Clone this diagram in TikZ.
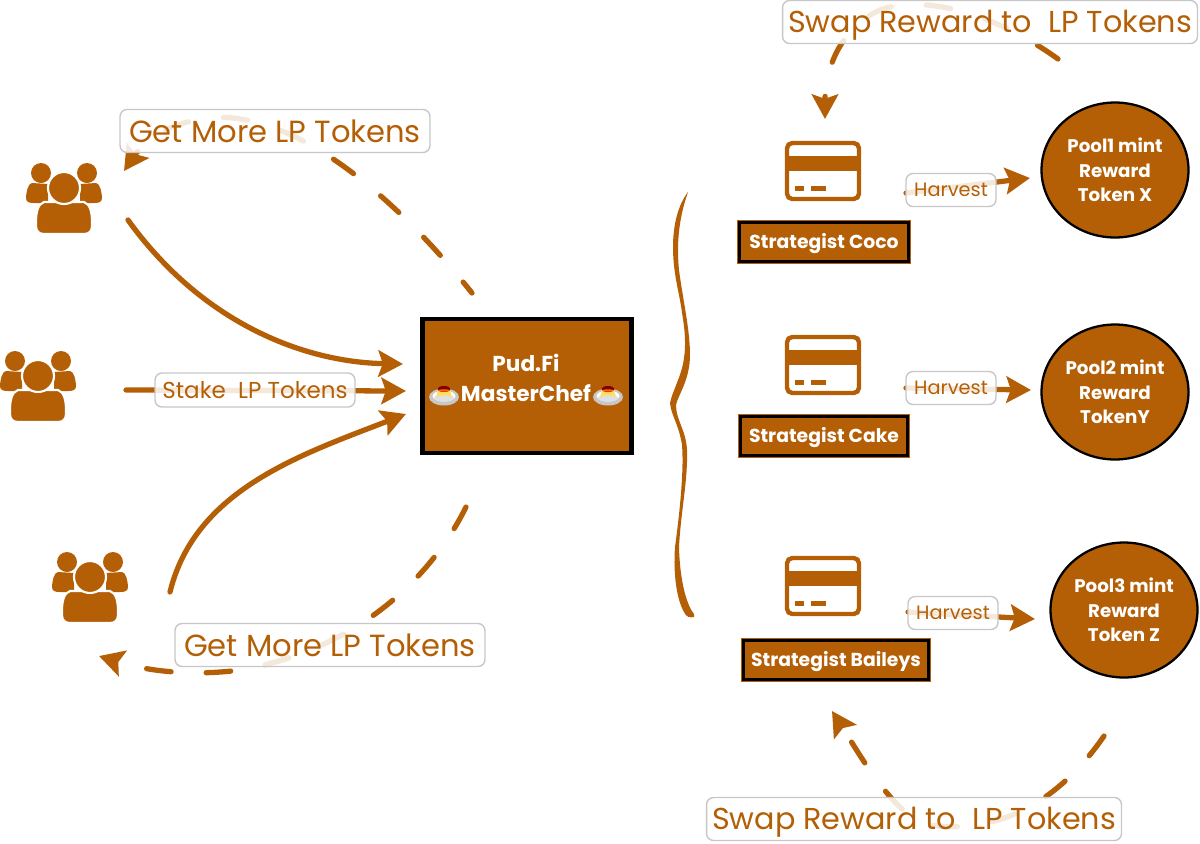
\documentclass[tikz,border=0pt]{standalone}
\usepackage{fontspec}
\setmainfont{Poppins}
\usetikzlibrary{arrows.meta,backgrounds,shapes.geometric}
\definecolor{pud}{HTML}{B45F06}
\tikzset{
  x=0.02cm,y=-0.02cm,
  arr/.style={draw=pud,line width=3pt,line cap=round,-{Stealth[length=14pt,width=15pt,inset=2.5pt]}},
  dasharr/.style={arr,dash pattern=on 14pt off 20pt},
  lbl/.style={draw=black!22,line width=0.8pt,rounded corners=4pt,fill=white,fill opacity=.86,text opacity=1,text=pud,inner sep=0pt},
  biglbl/.style={lbl,font=\fontsize{17.4}{20}\selectfont},
  swaplbl/.style={lbl,font=\fontsize{17.2}{20}\selectfont,text height=15pt,text depth=2.7pt,minimum width=8.3cm,minimum height=0.86cm},
  smalllbl/.style={lbl,font=\fontsize{11}{13}\selectfont},
  strat/.style={draw=black,fill=pud,line width=2pt,text=white,font=\bfseries\fontsize{10.7}{12}\selectfont,minimum height=0.8cm,inner sep=0pt,text height=10pt,text depth=2.3pt},
  pool/.style={ellipse,draw=black,line width=1.3pt,fill=pud,text=white,align=center,font=\bfseries\fontsize{10.4}{14}\selectfont,inner sep=0pt,minimum width=2.94cm,minimum height=2.7cm},
  pics/people/.style={code={
    \fill[pud] (-23,-15) circle (10);
    \fill[pud] (23,-15) circle (10);
    \fill[pud] (-16,-4) -- (-32,-5) .. controls (-36,-5) and (-38,5) .. (-38,10) .. controls (-38,14) and (-35,15) .. (-30,15) -- (-16,15) -- cycle;
    \fill[pud] (16,-4) -- (32,-5) .. controls (36,-5) and (38,5) .. (38,10) .. controls (38,14) and (35,15) .. (30,15) -- (16,15) -- cycle;
    \fill[pud,draw=white,line width=1.2pt] (-20,14) -- (20,14) .. controls (26,16) and (28,24) .. (28,34) -- (28,38) .. controls (28,43) and (25,46) .. (20,46) -- (-20,46) .. controls (-25,46) and (-28,43) .. (-28,38) -- (-28,34) .. controls (-28,24) and (-26,16) .. (-20,14) -- cycle;
    \fill[pud,draw=white,line width=1.2pt] (0,0) circle (16);
  }},
  pics/cardicon/.style={code={
    \draw[pud,line width=2.5pt,fill=white,rounded corners=3pt] (-36,-28) rectangle (36,28);
    \fill[pud] (-36,-15) rectangle (36,0);
    \fill[pud] (-28,15) rectangle (-19,20);
    \fill[pud] (-12,15) rectangle (3,20);
  }},
  pics/flan/.style={code={
    \fill[black!22] (0,0) ellipse (15 and 8.5);
    \fill[white] (0,-1) ellipse (11.5 and 5.5);
    \fill[black!12] (0,1) ellipse (10 and 3.5);
    \fill[orange!45!yellow!60] (-8,1) -- (-6,-8) -- (6,-8) -- (8,1) arc (0:-180:8 and 2.5) -- cycle;
    \fill[red!50!black] (0,-8) ellipse (6.5 and 3);
    \fill[orange!80!red] (0,-6.5) ellipse (6 and 1.2);
  }}
}
\begin{document}
\begin{tikzpicture}
\useasboundingbox (0,0) rectangle (1200,843);

% main nodes
\node[draw=black,fill=pud,line width=2.4pt,minimum width=4.18cm,minimum height=2.68cm,inner sep=0pt] (master) at (527,386) {};
\node[text=white,font=\bfseries\fontsize{12.3}{17}\selectfont,align=center] (mastertext) at (526,378) {Pud.Fi\\MasterChef};
\pic at (444,397) {flan};
\pic at (608,397) {flan};

\node[strat,minimum width=3.38cm] (coco) at (824,242) {Strategist Coco};
\node[strat,minimum width=3.36cm] (cake) at (824,436) {Strategist Cake};
\node[strat,minimum width=3.72cm] (baileys) at (836,660) {Strategist Baileys};
\draw[pud,line width=0.4pt] (coco.south west) rectangle (coco.north east);
\draw[pud,line width=0.4pt] (cake.south west) rectangle (cake.north east);
\draw[pud,line width=0.4pt] (baileys.south west) rectangle (baileys.north east);

\pic at (823,171) {cardicon};
\pic at (823,365) {cardicon};
\pic at (823,586) {cardicon};

\node[pool] (p1) at (1115,170) {Pool1 mint\\Reward\\Token X};
\node[pool] (p2) at (1115,392) {Pool2 mint\\Reward\\TokenY};
\node[pool] (p3) at (1124,610) {Pool3 mint\\Reward\\Token Z};

\pic at (64,188) {people};
\pic at (38,376) {people};
\pic at (90,577) {people};

% labels
\node[biglbl,minimum width=6.2cm,minimum height=0.86cm] (getA) at (275,131) {Get More LP Tokens};
\node[biglbl,minimum width=6.2cm,minimum height=0.86cm] (getB) at (330,645) {Get More LP Tokens};
\node[swaplbl] (swapA) at (990,22) {Swap Reward to\ \ LP Tokens};
\node[swaplbl] (swapB) at (914,819) {Swap Reward to\ \ LP Tokens};
\node[smalllbl,font=\fontsize{13.1}{15}\selectfont,minimum width=4cm,minimum height=0.68cm] (stake) at (255,390) {Stake\ \ LP Tokens};
\node[smalllbl,minimum width=1.8cm,minimum height=0.66cm] (h1) at (951,190) {Harvest};
\node[smalllbl,minimum width=1.8cm,minimum height=0.66cm] (h2) at (951,388) {Harvest};
\node[smalllbl,minimum width=1.8cm,minimum height=0.66cm] (h3) at (953,613) {Harvest};

% free ends
\coordinate (u1out) at (128,220);
\coordinate (m1in) at (403,364);
\coordinate (u2out) at (126,390);
\coordinate (m2in) at (406,391);
\coordinate (u3out) at (170,592);
\coordinate (m3in) at (406,414);
\coordinate (m4out) at (472,293);
\coordinate (u1in) at (124,171);
\coordinate (m5out) at (466,507);
\coordinate (u3in) at (99,656);
\coordinate (sA1) at (1058,59);
\coordinate (sA2) at (825,119);
\coordinate (sB1) at (1104,736);
\coordinate (sB2) at (832,711);
\coordinate (h1a) at (906,193);
\coordinate (h1b) at (1030,178);
\coordinate (h2a) at (906,388);
\coordinate (h2b) at (1031,390);
\coordinate (h3a) at (908,612);
\coordinate (h3b) at (1035,619);

\begin{pgfonlayer}{background}
\draw[arr] (u1out) .. controls (200,320) and (300,362) .. (m1in);
\draw[arr] (u2out) -- (m2in);
\draw[arr] (u3out) .. controls (195,490) and (300,455) .. (m3in);
\draw[arr,dash pattern=on 14pt off 20pt,dash phase=6pt] (m4out) .. controls (390,190) and (290,110) .. (210,118) .. controls (170,122) and (145,140) .. (u1in);
\draw[dasharr] (m5out) .. controls (430,580) and (355,650) .. (240,670) .. controls (195,676) and (150,672) .. (u3in);
\draw[dasharr] (sA1) .. controls (990,10) and (920,-5) .. (880,10) .. controls (840,28) and (825,70) .. (sA2);
\draw[dasharr] (sB1) .. controls (1060,800) and (1000,835) .. (930,825) .. controls (895,818) and (860,755) .. (sB2);
\draw[arr] (h1a) -- (h1b);
\draw[arr] (h2a) -- (h2b);
\draw[arr] (h3a) -- (h3b);
\end{pgfonlayer}

% brace
\fill[pud] (688,192) .. controls (678,205) and (673,225) .. (673,247)
  .. controls (673,275) and (680,295) .. (682,313)
  .. controls (685,330) and (686,345) .. (684,358)
  .. controls (682,375) and (672,392) .. (670,403)
  .. controls (671,415) and (679,425) .. (682,445)
  .. controls (684,470) and (680,510) .. (675,547)
  .. controls (673,575) and (677,600) .. (684,612)
  .. controls (686,617) and (690,618) .. (694,617)
  -- (694,614)
  .. controls (688,607) and (680,585) .. (679,547)
  .. controls (681,510) and (688,480) .. (687,450)
  .. controls (686,430) and (676,420) .. (676,405)
  .. controls (678,395) and (690,380) .. (690,355)
  .. controls (690,330) and (683,300) .. (679,270)
  .. controls (676,240) and (680,215) .. (688,192) -- cycle;
\end{tikzpicture}
\end{document}
